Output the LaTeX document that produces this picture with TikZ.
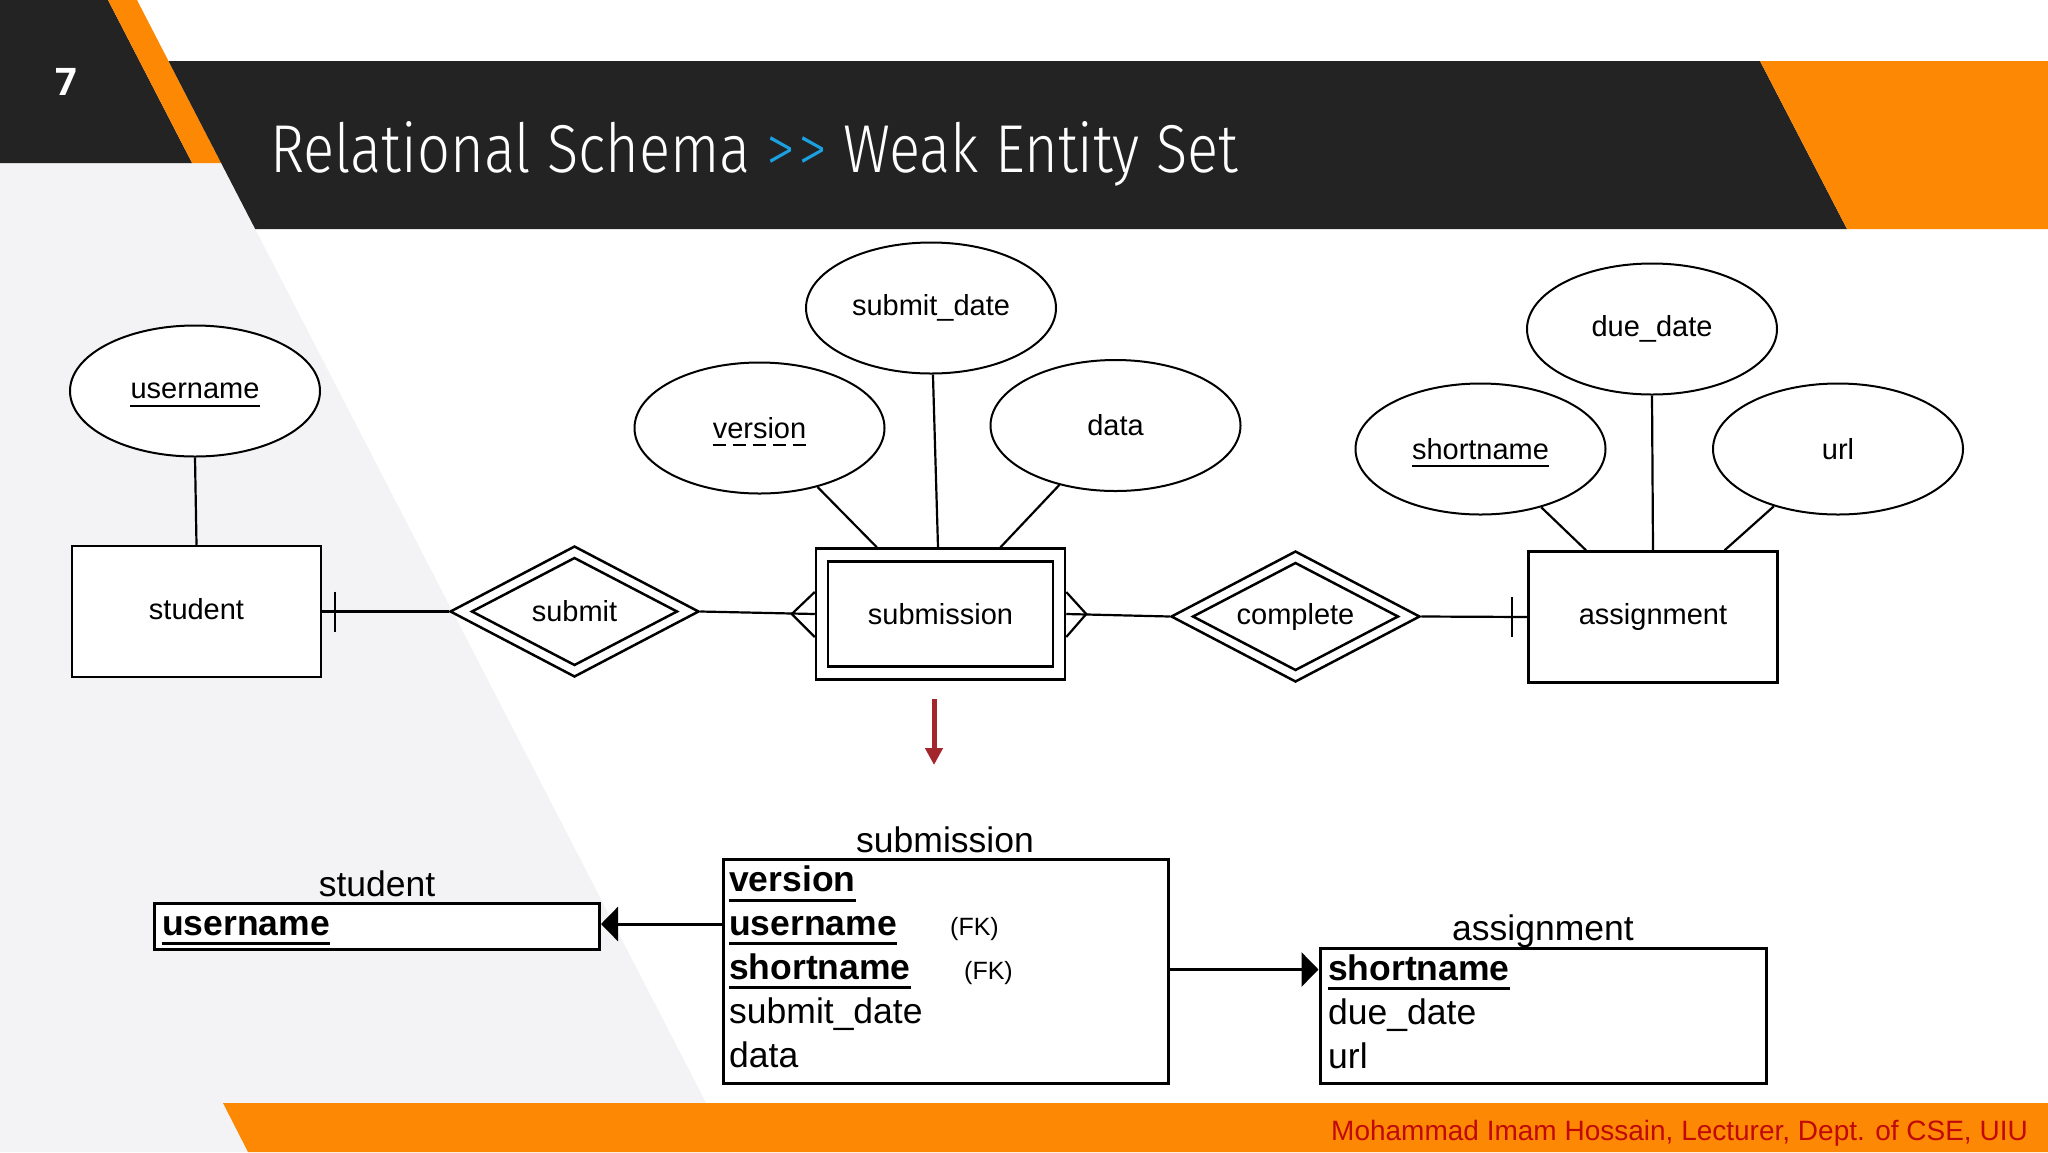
\documentclass[tikz,border=0pt]{standalone}
\usepackage{fontspec}
\setmainfont{Liberation Sans}
\IfFontExistsTF{Fira Sans Light}{\newfontfamily\titlefont{Fira Sans Light}}{\newfontfamily\titlefont{Open Sans}}
\newfontfamily\numfont{Open Sans}
\usetikzlibrary{shapes.geometric,arrows.meta,calc}
\definecolor{darkband}{RGB}{35,35,35}
\definecolor{slideorange}{RGB}{253,136,4}
\definecolor{bggrey}{RGB}{243,243,245}
\definecolor{titleblue}{RGB}{27,161,226}
\definecolor{footred}{RGB}{192,10,10}
\definecolor{arrowred}{RGB}{163,38,44}
\newcommand\erfont{\fontsize{29}{34}\selectfont}
\newcommand\tabfont{\fontsize{35.5}{40}\selectfont}
\newcommand\tabbold{\bfseries\fontsize{35.5}{40}\selectfont}
\newcommand\fkfont{\fontsize{25}{30}\selectfont}
\begin{document}
\begin{tikzpicture}[x=1pt,y=-1pt,
  erline/.style={line width=2.2pt,black},
  attr/.style={ellipse,draw,line width=2pt,fill=white,minimum width=250pt,minimum height=131pt,inner sep=0pt,font=\erfont},
  ent/.style={rectangle,draw,line width=2.5pt,fill=white,minimum width=249pt,minimum height=131pt,inner sep=0pt,font=\erfont},
  rel/.style={diamond,aspect=1.9,draw,line width=2.5pt,fill=white,minimum width=249pt,minimum height=131pt,inner sep=0pt,font=\erfont},
  relin/.style={diamond,aspect=1.9,draw,line width=2.5pt,minimum width=206pt,minimum height=108pt,inner sep=0pt,font=\erfont},
  ertxt/.style={inner sep=0pt,font=\erfont},
  tab/.style={rectangle,draw,line width=3pt,fill=white,inner sep=0pt},
  tabtxt/.style={inner sep=0pt,anchor=base west,font=\tabfont},
  tabkey/.style={inner sep=0pt,anchor=base west,font=\tabbold},
  tablabel/.style={inner sep=0pt,anchor=base,font=\tabfont},
  fk/.style={inner sep=0pt,anchor=base west,font=\fkfont},
  keyline/.style={line width=3pt},
  fkarrow/.style={line width=3pt,-{Triangle[length=17pt,width=34pt]}},
  redarrow/.style={line width=5pt,arrowred,-{Triangle[length=17pt,width=17pt]}}
]
\useasboundingbox (0,0) rectangle (2048,1152);
% background
\fill[white] (0,0) rectangle (2048,1152);
\fill[bggrey] (0,163) -- (221.1,163) -- (731.4,1152) -- (0,1152) -- cycle;
\fill[darkband] (0,0) -- (108,0) -- (192.1,163) -- (0,163) -- cycle;
\fill[slideorange] (108,0) -- (137,0) -- (221.1,163) -- (192.1,163) -- cycle;
\fill[darkband] (168.5,61) -- (1760,61) -- (1847,229) -- (255.2,229) -- cycle;
\fill[slideorange] (1760,61) -- (2048,61) -- (2048,229) -- (1847,229) -- cycle;
\fill[slideorange] (223,1103) -- (2048,1103) -- (2048,1152) -- (248,1152) -- cycle;

% header texts
\node[text=white,inner sep=0pt,font=\numfont\bfseries\fontsize{38}{40}\selectfont] (pagenum) at (66,81.5) {7};
\node[anchor=base west,inner sep=0pt,text=white] (title) at (270,172)
  {\resizebox{968pt}{51pt}{\titlefont\fontsize{70}{80}\selectfont Relational Schema {\color{titleblue}>\kern3pt>} Weak Entity Set}};

% ER entities and relationships
\node[ent] (student) at (196.5,611.5) {};
\node[ertxt] (t-student) at (196.5,609.5) {student};
\node[rel] (submit) at (574.5,611.5) {};
\node[relin] (submitin) at (submit) {submit};
\node[ent] (sub) at (940.5,614) {};
\node[rectangle,draw,line width=2.5pt,minimum width=225pt,minimum height=105pt,inner sep=0pt,font=\erfont] (subin) at (sub) {submission};
\node[rel] (complete) at (1295.5,616.5) {};
\node[relin] (completein) at (complete) {complete};
\node[ent] (assign) at (1653,617) {assignment};

% attributes
\node[attr] (a-username) at (195,391) {};
\node[ertxt] (t-username) at (a-username) {username};
\node[attr] (a-subdate) at (931,308) {submit\_date};
\node[attr] (a-version) at (759.5,428) {};
\node[ertxt] (t-version) at (a-version) {version};
\node[attr] (a-data) at (1115.5,425.5) {data};
\node[attr] (a-duedate) at (1652,329) {due\_date};
\node[attr] (a-shortname) at (1480.5,449) {};
\node[ertxt] (t-shortname) at (a-shortname) {shortname};
\node[attr] (a-url) at (1838,449) {url};

% underlines in ER
\draw[line width=2pt] ([yshift=-7pt]t-username.base west) -- ([yshift=-7pt]t-username.base east);
\draw[line width=2pt] ([yshift=-7pt]t-shortname.base west) -- ([yshift=-7pt]t-shortname.base east);
\draw[line width=2pt,dash pattern=on 13.4pt off 6.75pt] ([yshift=-7pt]t-version.base west) -- ([yshift=-7pt]t-version.base east);

% attribute connectors
\draw[erline] (a-username.south) -- (student.north);
\draw[erline] (a-version) -- ([xshift=-63.7pt]sub.north);
\draw[erline] (a-subdate) -- ([xshift=-2.5pt]sub.north);
\draw[erline] (a-data) -- ([xshift=60pt]sub.north);
\draw[erline] (a-duedate.south) -- (assign.north);
\draw[erline] (a-shortname) -- ([xshift=-67pt]assign.north);
\draw[erline] (a-url) -- ([xshift=71.6pt]assign.north);

% relationship connectors
\draw[erline] (student.east) -- (submit.west);
\draw[erline] ([xshift=13pt,yshift=20pt]student.east) -- ([xshift=13pt,yshift=-20pt]student.east);
\draw[erline] (submit.east) -- (sub.west);
\draw[erline] ([yshift=22pt]sub.west) -- ([xshift=-23pt]sub.west) -- ([yshift=-23pt]sub.west);
\draw[erline] (sub.east) -- (complete.west);
\draw[erline] ([yshift=22pt]sub.east) -- ([xshift=20pt]sub.east) -- ([yshift=-23pt]sub.east);
\draw[erline] (complete.east) -- (assign.west);
\draw[erline] ([xshift=-15pt,yshift=20pt]assign.west) -- ([xshift=-15pt,yshift=-20pt]assign.west);

% red arrow
\coordinate (rstart) at (934,699);
\coordinate (rend) at (934,765);
\draw[redarrow] (rstart) -- (rend);

% relational tables
\node[tab,minimum width=445.5pt,minimum height=46pt] (stutab) at (376.75,926) {};
\node[tablabel] (stutab-l) at (377,896) {student};
\node[tabkey] (stu-r1) at (162,935) {username};
\draw[keyline] ([yshift=-8.5pt]stu-r1.base west) -- ([yshift=-8.5pt]stu-r1.base east);

\node[tab,minimum width=445pt,minimum height=224pt] (subtab) at (945.5,971) {};
\node[tablabel] (subtab-l) at (945,852) {submission};
\node[tabkey] (sub-r1) at (729,891.7) {version};
\node[tabkey] (sub-r2) at (729,935) {username};
\node[tabkey] (sub-r3) at (729,979) {shortname};
\node[tabtxt] (sub-r4) at (729,1023) {submit\_date};
\node[tabtxt] (sub-r5) at (729,1067.5) {data};
\node[fk] (fk1) at (950,935) {(FK)};
\node[fk] (fk2) at (964,979) {(FK)};
\draw[keyline] ([yshift=-8.5pt]sub-r1.base west) -- ([yshift=-8.5pt]sub-r1.base east);
\draw[keyline] ([yshift=-8.5pt]sub-r2.base west) -- ([yshift=-8.5pt]sub-r2.base east);
\draw[keyline] ([yshift=-8.5pt]sub-r3.base west) -- ([yshift=-8.5pt]sub-r3.base east);

\node[tab,minimum width=446pt,minimum height=135pt] (asgtab) at (1543,1015.5) {};
\node[tablabel] (asgtab-l) at (1543,940) {assignment};
\node[tabkey] (asg-r1) at (1328,980) {shortname};
\node[tabtxt] (asg-r2) at (1328,1024) {due\_date};
\node[tabtxt] (asg-r3) at (1328,1068) {url};
\draw[keyline] ([yshift=-8.5pt]asg-r1.base west) -- ([yshift=-8.5pt]asg-r1.base east);

% foreign key arrows
\draw[fkarrow] (subtab.west |- 0,924) -- (stutab.east |- 0,924);
\draw[fkarrow] (subtab.east |- 0,969.5) -- (asgtab.west |- 0,969.5);

% footer
\node[anchor=base east,inner sep=0pt,text=footred,font=\fontsize{28}{32}\selectfont] (footer) at (2028,1140) {Mohammad Imam Hossain, Lecturer, Dept. of CSE, UIU};
\end{tikzpicture}
\end{document}
